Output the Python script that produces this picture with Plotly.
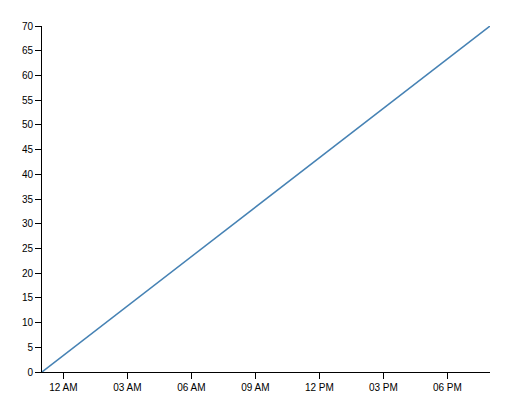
import plotly.graph_objects as go

# 数据：起点与终点
times = ["2020-01-01 23:00", "2020-01-02 20:00"]
values = [0, 70]
x_tickvals = ["2020-01-02 00:00", "2020-01-02 03:00", "2020-01-02 06:00", "2020-01-02 09:00",
              "2020-01-02 12:00", "2020-01-02 15:00", "2020-01-02 18:00"]
x_ticktext = ["12 AM", "03 AM", "06 AM", "09 AM", "12 PM", "03 PM", "06 PM"]

fig = go.Figure(go.Scatter(x=times, y=values, mode="lines",
                           line=dict(color="steelblue", width=1.5)))

axis_style = dict(showgrid=False, zeroline=False, showline=True, linecolor="black",
                  linewidth=1, ticks="outside", ticklen=6, tickcolor="black",
                  tickfont=dict(family="Arial", size=10, color="black"))
fig.update_xaxes(range=[times[0], times[1]], tickvals=x_tickvals, ticktext=x_ticktext, **axis_style)
fig.update_yaxes(range=[0, 70], dtick=5, **axis_style)

fig.update_layout(width=519, height=420, plot_bgcolor="white", paper_bgcolor="white",
                  margin=dict(l=34, r=37, t=14, b=56), showlegend=False)

fig.write_html("out.html")
